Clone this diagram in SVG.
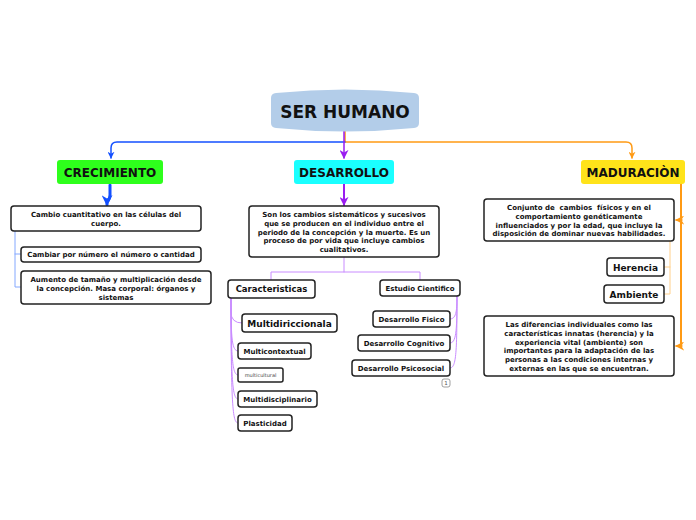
<svg xmlns="http://www.w3.org/2000/svg" width="696" height="520" viewBox="0 0 696 520">
<defs>
<style>
text{font-family:"DejaVu Sans","Liberation Sans",sans-serif;font-weight:bold;fill:#111;text-anchor:middle}
.box{fill:#fff;stroke:#222;stroke-width:1.5}
.t7{font-size:7px}
.t9{font-size:9px}
.main{font-size:12px}
.c{fill:none;stroke-linecap:round;stroke-linejoin:round}
.blue{stroke:#1450ff;stroke-width:1.5}
.orange{stroke:#ff9a14;stroke-width:1.5}
.purple{stroke:#9a1cf0;stroke-width:1.5}
.lpurple{stroke:#c98cff;stroke-width:1}
.lblue{stroke:#84a8ff;stroke-width:1}
.lorange{stroke:#ffcf8a;stroke-width:1}
</style>
<marker id="aBlue" viewBox="0 0 10 10" refX="9" refY="5" markerWidth="7" markerHeight="7" markerUnits="userSpaceOnUse" orient="auto"><path d="M0,0 L10,5 L0,10 L3,5 Z" fill="#1450ff"/></marker>
<marker id="aBlueB" viewBox="0 0 10 10" refX="9" refY="5" markerWidth="11" markerHeight="11" markerUnits="userSpaceOnUse" orient="auto"><path d="M0,0 L10,5 L0,10 L3,5 Z" fill="#1450ff"/></marker>
<marker id="aOrange" viewBox="0 0 10 10" refX="9" refY="5" markerWidth="7" markerHeight="7" markerUnits="userSpaceOnUse" orient="auto"><path d="M0,0 L10,5 L0,10 L3,5 Z" fill="#ff9a14"/></marker>
<marker id="aOrangeS" viewBox="0 0 10 10" refX="9" refY="5" markerWidth="9" markerHeight="9" markerUnits="userSpaceOnUse" orient="auto"><path d="M0,0 L10,5 L0,10 L3,5 Z" fill="#ff9a14"/></marker>
<marker id="aPurple" viewBox="0 0 10 10" refX="9" refY="5" markerWidth="9" markerHeight="9" markerUnits="userSpaceOnUse" orient="auto"><path d="M0,0 L10,5 L0,10 L3,5 Z" fill="#9a1cf0"/></marker>
</defs>
<rect width="696" height="520" fill="#fff"/>

<g id="connectors">
<path class="c orange" d="M345,131 L345,142 L626,142 Q632,142 632,148 L632,158" marker-end="url(#aOrange)"/>
<path class="c blue" d="M345,142 L117,142 Q111,142 111,148 L111,158" marker-end="url(#aBlue)"/>
<path class="c purple" d="M344,131 L344,158" marker-end="url(#aPurple)"/>
<path class="c blue" style="stroke-width:3" d="M110,185 L110,195 Q110,199 107,202 L107,205" marker-end="url(#aBlueB)"/>
<path class="c lblue" d="M15,231 L15,287 L21,287 M15,254 L21,254"/>
<path class="c purple" style="stroke-width:2" d="M344,184 L344,205" marker-end="url(#aPurple)"/>
<path class="c lpurple" d="M344,257 L344,272 M271,280 L271,272 L420,272 L420,280"/>
<path class="c lpurple" d="M231,298 L231,312 Q231,323 242,323"/>
<path class="c lpurple" d="M231,298 C231,340 232,351 238,351"/>
<path class="c lpurple" d="M231,298 C231,365 233,375 238,375"/>
<path class="c lpurple" d="M231,298 C231,388 233,399 238,399"/>
<path class="c lpurple" d="M231,298 C231,412 233,423 238,423"/>
<path class="c lpurple" d="M457,296 C457,312 456,319 450,319"/>
<path class="c lpurple" d="M457,296 C457,333 456,343 450,343"/>
<path class="c lpurple" d="M457,296 C457,356 456,368 450,368"/>
<path class="c orange" style="stroke-width:2" d="M681,184 L681,346"/>
<path class="c orange" d="M682,220 L676,220" marker-end="url(#aOrangeS)"/>
<path class="c orange" d="M682,346 L676,346" marker-end="url(#aOrangeS)"/>
<path class="c lorange" d="M670,241 L670,294 L664,294 M670,267 L664,267"/>
</g>

<g id="ser-humano">
<path d="M276,93 Q345,86 414,93 Q419,93.5 419,98 L419,123 Q419,127.5 414,128 Q345,135 276,128 Q271,127.5 271,123 L271,98 Q271,93.5 276,93 Z" fill="#b3cde9"/>
<text x="345" y="118" style="font-size:17px">SER HUMANO</text>
</g>

<g id="crecimiento">
<rect x="57" y="160" width="106" height="24" rx="3" fill="#2eff1c"/>
<text class="main" x="110" y="177">CRECIMIENTO</text>
</g>
<g id="desarrollo">
<rect x="294" y="160" width="100" height="24" rx="3" fill="#1affff"/>
<text class="main" x="344" y="177">DESARROLLO</text>
</g>
<g id="maduracion">
<rect x="581" y="160" width="104" height="24" rx="3" fill="#ffe31a"/>
<text class="main" x="633" y="177">MADURACIÒN</text>
</g>

<g id="cambio">
<rect class="box" x="11" y="206" width="190" height="25" rx="3"/>
<text class="t7" x="106" y="217">Cambio cuantitativo en las células del</text>
<text class="t7" x="106" y="226">cuerpo.</text>
</g>
<g id="cambiar">
<rect class="box" x="21" y="247" width="180" height="15" rx="3"/>
<text class="t7" x="111" y="257">Cambiar por número el número o cantidad</text>
</g>
<g id="aumento">
<rect class="box" x="21" y="271" width="190" height="33" rx="3"/>
<text class="t7" x="116" y="282">Aumento de tamaño y multiplicación desde</text>
<text class="t7" x="116" y="291">la concepción. Masa corporal: órganos y</text>
<text class="t7" x="116" y="300">sistemas</text>
</g>

<g id="son-los-cambios">
<rect class="box" x="249" y="206" width="190" height="51" rx="3"/>
<text class="t7" x="344" y="217">Son los cambios sistemáticos y sucesivos</text>
<text class="t7" x="344" y="226">que se producen en el individuo entre el</text>
<text class="t7" x="344" y="234.5">periodo de la concepción y la muerte. Es un</text>
<text class="t7" x="344" y="243">proceso de por vida que incluye cambios</text>
<text class="t7" x="344" y="251.5">cualitativos.</text>
</g>

<g id="caracteristicas">
<rect class="box" x="228" y="280" width="87" height="18" rx="3"/>
<text x="271.5" y="292" style="font-size:8.5px">Caracteristicas</text>
</g>
<g id="multidiriccionala">
<rect class="box" x="242" y="314" width="95" height="18" rx="3"/>
<text class="t9" x="289.5" y="326.5">Multidiriccionala</text>
</g>
<g id="multicontextual">
<rect class="box" x="238" y="343" width="73" height="16" rx="3"/>
<text class="t7" x="274.5" y="354">Multicontextual</text>
</g>
<g id="multicultural">
<rect class="box" x="238" y="368" width="45" height="14" rx="2"/>
<text x="260.5" y="377" style="font-size:5px;font-weight:normal;fill:#444">multicultural</text>
</g>
<g id="multidisciplinario">
<rect class="box" x="238" y="391" width="79" height="16" rx="3"/>
<text class="t7" x="277.5" y="402">Multidisciplinario</text>
</g>
<g id="plasticidad">
<rect class="box" x="238" y="415" width="54" height="16" rx="3"/>
<text class="t7" x="265" y="426">Plasticidad</text>
</g>

<g id="estudio-cientifico">
<rect class="box" x="380" y="280" width="80" height="16" rx="3"/>
<text class="t7" x="420" y="291">Estudio Cientifico</text>
</g>
<g id="desarrollo-fisico">
<rect class="box" x="373" y="311" width="77" height="16" rx="3"/>
<text class="t7" x="411.5" y="322">Desarrollo Fisico</text>
</g>
<g id="desarrollo-cognitivo">
<rect class="box" x="358" y="335" width="92" height="16" rx="3"/>
<text class="t7" x="404" y="346">Desarrollo Cognitivo</text>
</g>
<g id="desarrollo-psicosocial">
<rect class="box" x="352" y="360" width="98" height="16" rx="3"/>
<text class="t7" x="401" y="371">Desarrollo Psicosocial</text>
<rect x="442" y="379" width="8" height="8" rx="2" fill="#fff" stroke="#888" stroke-width="0.8"/>
<text x="446" y="385.3" style="font-size:5.5px;font-weight:normal;fill:#555">1</text>
</g>

<g id="conjunto">
<rect class="box" x="484" y="199" width="190" height="42" rx="3"/>
<text class="t7" x="579" y="210" xml:space="preserve">Conjunto de  cambios  físicos y en el</text>
<text class="t7" x="579" y="219">comportamiento genéticamente</text>
<text class="t7" x="579" y="227.5">influenciados y por la edad, que incluye la</text>
<text class="t7" x="579" y="236">disposición de dominar nuevas habilidades.</text>
</g>
<g id="herencia">
<rect class="box" x="607" y="258" width="57" height="18" rx="3"/>
<text class="t9" x="635.5" y="270.5">Herencia</text>
</g>
<g id="ambiente">
<rect class="box" x="604" y="285" width="60" height="18" rx="3"/>
<text class="t9" x="634" y="297.5">Ambiente</text>
</g>
<g id="diferencias">
<rect class="box" x="484" y="316" width="190" height="60" rx="3"/>
<text class="t7" x="579" y="327">Las diferencias individuales como las</text>
<text class="t7" x="579" y="335.5">características innatas (herencia) y la</text>
<text class="t7" x="579" y="344.5">experiencia vital (ambiente) son</text>
<text class="t7" x="579" y="353">importantes para la adaptación de las</text>
<text class="t7" x="579" y="362">personas a las condiciones internas y</text>
<text class="t7" x="579" y="370.5">externas en las que se encuentran.</text>
</g>
</svg>
